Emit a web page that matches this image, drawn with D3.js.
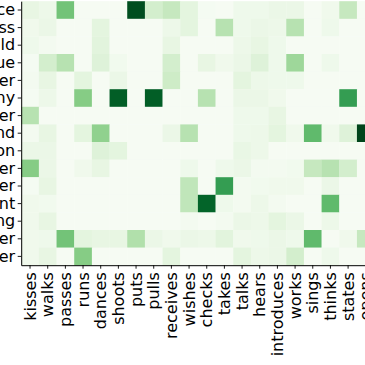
<!DOCTYPE html>
<html>
<head>
<meta charset="utf-8">
<script src="https://cdn.jsdelivr.net/npm/d3@7"></script>
<style>
  html, body { margin: 0; padding: 0; background: #fff; overflow: hidden; }
  svg { display: block; }
  text { font-family: "DejaVu Sans", sans-serif; }
</style>
</head>
<body>
<svg id="chart" width="365" height="365"></svg>
<script>
// row labels (cut off at the left edge of the picture)
const rowLabels = ['space', 'class', 'child', 'queue', 'water', 'company', 'teacher', 'friend',
  'person', 'singer', 'dancer', 'student', 'king', 'manager', 'player'];

// column labels
const colLabels = ['kisses', 'walks', 'passes', 'runs', 'dances', 'shoots', 'puts', 'pulls',
  'receives', 'wishes', 'checks', 'takes', 'talks', 'hears', 'introduces', 'works',
  'sings', 'thinks', 'states', 'opens'];

// cell values, one array per row (0..1)
const values = [
  [0.10, 0.07, 0.50, 0.01, 0.01, 0.01, 0.97, 0.20, 0.25, 0.12, 0.02, 0.01, 0.06, 0.06, 0.08, 0.08, 0.01, 0.05, 0.25, 0.01],
  [0.05, 0.08, 0.01, 0.01, 0.12, 0.01, 0.01, 0.01, 0.07, 0.12, 0.01, 0.30, 0.06, 0.08, 0.07, 0.30, 0.01, 0.06, 0.01, 0.01],
  [0.06, 0.03, 0.01, 0.01, 0.13, 0.01, 0.01, 0.01, 0.10, 0.01, 0.01, 0.01, 0.07, 0.10, 0.06, 0.01, 0.01, 0.01, 0.01, 0.01],
  [0.02, 0.20, 0.30, 0.01, 0.15, 0.04, 0.01, 0.01, 0.20, 0.01, 0.10, 0.05, 0.08, 0.15, 0.06, 0.38, 0.01, 0.06, 0.01, 0.01],
  [0.03, 0.10, 0.01, 0.12, 0.01, 0.08, 0.01, 0.01, 0.22, 0.01, 0.01, 0.01, 0.12, 0.07, 0.06, 0.06, 0.01, 0.01, 0.01, 0.01],
  [0.02, 0.07, 0.01, 0.45, 0.01, 0.92, 0.01, 0.92, 0.01, 0.01, 0.30, 0.01, 0.08, 0.08, 0.05, 0.01, 0.01, 0.01, 0.68, 0.01],
  [0.30, 0.01, 0.01, 0.01, 0.01, 0.01, 0.01, 0.01, 0.01, 0.01, 0.01, 0.01, 0.06, 0.06, 0.10, 0.01, 0.01, 0.01, 0.01, 0.01],
  [0.03, 0.10, 0.01, 0.12, 0.42, 0.01, 0.01, 0.01, 0.08, 0.30, 0.01, 0.01, 0.06, 0.07, 0.12, 0.05, 0.55, 0.05, 0.15, 1.00],
  [0.08, 0.08, 0.01, 0.01, 0.15, 0.12, 0.01, 0.01, 0.01, 0.01, 0.01, 0.01, 0.09, 0.07, 0.01, 0.01, 0.01, 0.01, 0.01, 0.01],
  [0.45, 0.08, 0.01, 0.05, 0.10, 0.01, 0.01, 0.01, 0.01, 0.06, 0.01, 0.06, 0.08, 0.03, 0.03, 0.04, 0.25, 0.30, 0.20, 0.01],
  [0.02, 0.10, 0.01, 0.01, 0.01, 0.01, 0.01, 0.01, 0.01, 0.27, 0.01, 0.68, 0.03, 0.04, 0.05, 0.05, 0.01, 0.08, 0.01, 0.01],
  [0.05, 0.04, 0.01, 0.01, 0.01, 0.01, 0.01, 0.01, 0.01, 0.27, 0.90, 0.06, 0.03, 0.07, 0.03, 0.01, 0.01, 0.55, 0.01, 0.01],
  [0.05, 0.10, 0.01, 0.01, 0.01, 0.01, 0.01, 0.01, 0.01, 0.03, 0.01, 0.03, 0.08, 0.07, 0.12, 0.08, 0.01, 0.07, 0.01, 0.01],
  [0.05, 0.06, 0.50, 0.12, 0.10, 0.10, 0.32, 0.08, 0.05, 0.08, 0.07, 0.13, 0.05, 0.06, 0.08, 0.06, 0.55, 0.01, 0.05, 0.25],
  [0.05, 0.10, 0.01, 0.45, 0.01, 0.01, 0.01, 0.01, 0.12, 0.01, 0.01, 0.01, 0.12, 0.07, 0.08, 0.20, 0.01, 0.06, 0.01, 0.01]
];

const svg = d3.select('#chart');

// plot area (the figure is cropped: last column runs past the right edge)
const cellW = 17.67;
const cellH = 17.6;
const margin = { left: 21.2, top: 1.2 };
const plotW = cellW * colLabels.length;
const plotH = cellH * rowLabels.length;
const fontSize = 16;

const xScale = d3.scaleBand()
  .domain(colLabels)
  .range([margin.left, margin.left + plotW])
  .padding(0);

const yScale = d3.scaleBand()
  .domain(rowLabels)
  .range([margin.top, margin.top + plotH])
  .padding(0);

const color = d3.scaleSequential(d3.interpolateGreens).domain([0, 1]);

// cells
const cells = [];
values.forEach((row, i) => row.forEach((v, j) => cells.push({ r: rowLabels[i], c: colLabels[j], v })));

svg.append('g')
  .selectAll('rect')
  .data(cells)
  .enter()
  .append('rect')
  .attr('x', d => xScale(d.c))
  .attr('y', d => yScale(d.r))
  .attr('width', xScale.bandwidth() + 0.3)
  .attr('height', yScale.bandwidth() + 0.3)
  .attr('fill', d => color(d.v));

// y axis
const yAxis = svg.append('g')
  .attr('transform', `translate(${margin.left},0)`)
  .call(d3.axisLeft(yScale).tickSize(3.5).tickPadding(2.5).tickSizeOuter(0));
yAxis.selectAll('text')
  .attr('font-size', fontSize)
  .attr('fill', '#000');

// x axis
const xAxis = svg.append('g')
  .attr('transform', `translate(0,${margin.top + plotH})`)
  .call(d3.axisBottom(xScale).tickSize(3.5).tickPadding(2).tickSizeOuter(0));
xAxis.selectAll('text')
  .attr('font-size', fontSize)
  .attr('fill', '#000')
  .attr('text-anchor', 'end')
  .attr('transform', 'rotate(-90)')
  .attr('x', -7)
  .attr('y', 0)
  .attr('dy', '0.35em');

[yAxis, xAxis].forEach(g => {
  g.attr('font-family', null);
  g.select('.domain').attr('stroke', '#000').attr('stroke-width', 1);
  g.selectAll('.tick line').attr('stroke', '#000').attr('stroke-width', 0.9);
});
</script>
</body>
</html>
